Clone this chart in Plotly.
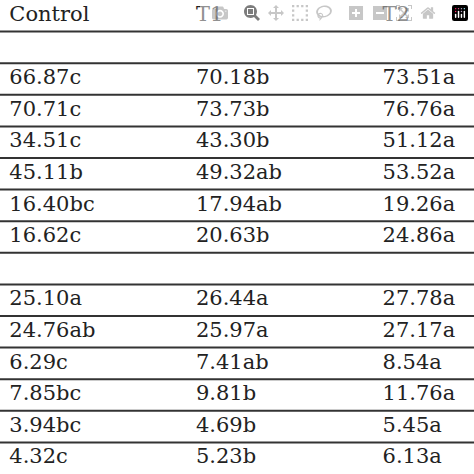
import plotly.graph_objects as go

headers = ["Control", "T1", "T2"]

control = ["66.87c", "70.71c", "34.51c", "45.11b", "16.40bc", "16.62c",
           "25.10a", "24.76ab", "6.29c", "7.85bc", "3.94bc", "4.32c"]
t1 = ["70.18b", "73.73b", "43.30b", "49.32ab", "17.94ab", "20.63b",
      "26.44a", "25.97a", "7.41ab", "9.81b", "4.69b", "5.23b"]
t2 = ["73.51a", "76.76a", "51.12a", "53.52a", "19.26a", "24.86a",
      "27.78a", "27.17a", "8.54a", "11.76a", "5.45a", "6.13a"]

# row layout: header, blank, 6 rows, blank, 6 rows
row_idx = [2, 3, 4, 5, 6, 7, 9, 10, 11, 12, 13, 14]
n_rows = 15

fig = go.Figure()

fig.add_trace(go.Scatter(
    x=[0, 1, 2], y=[0, 0, 0], text=headers, mode="text",
    textposition="middle right",
))
for col, vals in enumerate([control, t1, t2]):
    fig.add_trace(go.Scatter(
        x=[col] * len(vals), y=row_idx, text=vals, mode="text",
        textposition="middle right",
    ))
fig.update_traces(textfont=dict(family="DejaVu Serif", size=21, color="#222"),
                  hoverinfo="skip", cliponaxis=False)

for k in range(n_rows - 1):
    fig.add_shape(type="line", xref="paper", x0=0, x1=1, y0=k + 0.5, y1=k + 0.5,
                  line=dict(color="#333", width=2))

fig.update_layout(
    width=474, height=474,
    margin=dict(l=0, r=0, t=0, b=0),
    paper_bgcolor="white", plot_bgcolor="white",
    showlegend=False,
    xaxis=dict(range=[-0.05, 2.49], visible=False),
    yaxis=dict(range=[n_rows - 0.5, -0.5], visible=False),
)

fig.write_html("out.html", post_script="document.body.style.margin='0';")
